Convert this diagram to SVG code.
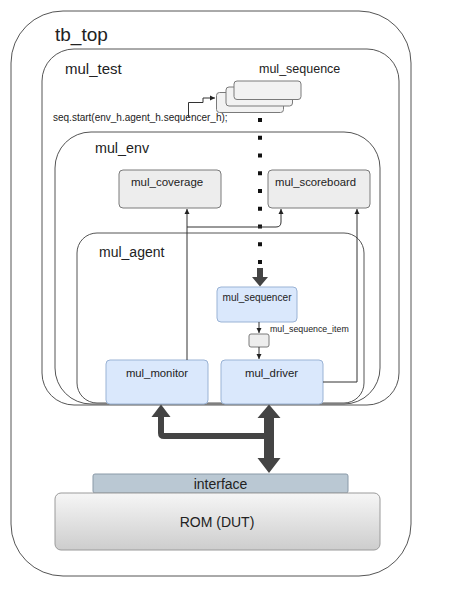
<svg xmlns="http://www.w3.org/2000/svg" width="474" height="591" viewBox="0 0 474 591">
<style>
text{font-family:"Liberation Sans",Arial,sans-serif;fill:#222}
.cont{fill:#fff;stroke:#555;stroke-width:1}
.gray{fill:#ededed;stroke:#7a7a7a;stroke-width:1}
.blue{fill:#dae8fc;stroke:#9ab3d5;stroke-width:1}
.ln{fill:none;stroke:#333;stroke-width:1}
.thick{fill:#444;stroke:none}
</style>
<defs>
<marker id="ah" markerWidth="6" markerHeight="6" refX="5" refY="3" orient="auto" markerUnits="userSpaceOnUse">
<path d="M0,0.5 L5,3 L0,5.5 Z" fill="#222"/>
</marker>
<linearGradient id="romg" x1="0" y1="0" x2="0" y2="1">
<stop offset="0" stop-color="#f6f6f6"/>
<stop offset="1" stop-color="#cdcdcd"/>
</linearGradient>
</defs>

<g id="tb_top">
<rect class="cont" x="11" y="11" width="400" height="565" rx="52"/>
<text x="55" y="41" font-size="19">tb_top</text>
</g>
<g id="mul_test">
<rect class="cont" x="42" y="49" width="357" height="356" rx="32"/>
<text x="65" y="74" font-size="15">mul_test</text>
<text x="53" y="121" font-size="10">seq.start(env_h.agent_h.sequencer_h);</text>
</g>
<g id="mul_sequence">
<text x="259" y="73" font-size="12.5">mul_sequence</text>
<rect class="gray" x="216.5" y="92.5" width="67" height="20" rx="3" style="fill:#f2f2f2"/>
<rect class="gray" x="226" y="87" width="66.5" height="19" rx="3" style="fill:#f2f2f2"/>
<rect class="gray" x="234" y="81" width="67" height="18.5" rx="3" style="fill:#f2f2f2"/>
</g>
<g id="mul_env">
<rect class="cont" x="55" y="132" width="325" height="272" rx="36"/>
<text x="95" y="153" font-size="14.3">mul_env</text>
</g>
<g id="mul_coverage">
<rect class="gray" x="119" y="170" width="102" height="38" rx="4"/>
<text x="131" y="186" font-size="11.5">mul_coverage</text>
</g>
<g id="mul_scoreboard">
<rect class="gray" x="268" y="170" width="102" height="38" rx="4"/>
<text x="275" y="186" font-size="11.3">mul_scoreboard</text>
</g>
<g id="mul_agent">
<rect class="cont" x="77" y="233" width="287" height="170" rx="20"/>
<text x="99" y="257" font-size="14">mul_agent</text>
</g>
<g id="mul_sequencer">
<rect class="blue" x="217" y="287" width="80" height="35" rx="4"/>
<text x="257" y="301" font-size="10.1" text-anchor="middle">mul_sequencer</text>
</g>
<g id="mul_sequence_item">
<rect class="gray" x="249" y="334" width="20" height="13" rx="2"/>
<text x="270" y="332" font-size="8.8">mul_sequence_item</text>
</g>
<g id="mul_monitor">
<rect class="blue" x="106" y="360" width="102" height="44" rx="4"/>
<text x="157" y="377" font-size="11.3" text-anchor="middle">mul_monitor</text>
</g>
<g id="mul_driver">
<rect class="blue" x="221" y="360" width="102" height="44" rx="4"/>
<text x="271.5" y="377" font-size="11.4" text-anchor="middle">mul_driver</text>
</g>
<g id="interface">
<rect x="93" y="474" width="255" height="19" rx="2" fill="#bac8d3" stroke="#8a9aa8" stroke-width="1"/>
<text x="220.5" y="489" font-size="14" text-anchor="middle">interface</text>
</g>
<g id="rom_dut">
<rect x="55" y="493" width="325" height="57" rx="6" fill="url(#romg)" stroke="#9a9a9a" stroke-width="1"/>
<text x="217" y="527" font-size="14" text-anchor="middle">ROM (DUT)</text>
</g>

<g id="connectors">
<path class="ln" d="M188.5,117 V102.5 H203 V98 H215" marker-end="url(#ah)"/>
<line x1="260" y1="118" x2="260" y2="264" stroke="#111" stroke-width="4" stroke-dasharray="4 13.75"/>
<polygon class="thick" points="257,268 263,268 263,277 268,277 260,286.5 252,277 257,277"/>
<path class="ln" d="M187,360 V209" marker-end="url(#ah)"/>
<path class="ln" d="M187,227 H276 Q281,227 281,222 V209" marker-end="url(#ah)"/>
<path class="ln" d="M323,382 H357 V209" marker-end="url(#ah)"/>
<path class="ln" d="M259,322 V333" marker-end="url(#ah)"/>
<path class="ln" d="M259,347 V359" marker-end="url(#ah)"/>
<polygon class="thick" points="269,404.5 280.5,418 274,418 274,458 280.5,458 269,473 257.5,458 264,458 264,418 257.5,418"/>
<path d="M266,436 H164 Q161,436 161,433 V416" fill="none" stroke="#444" stroke-width="6"/>
<polygon class="thick" points="161,404.5 170.5,417 151.5,417"/>
</g>
</svg>
